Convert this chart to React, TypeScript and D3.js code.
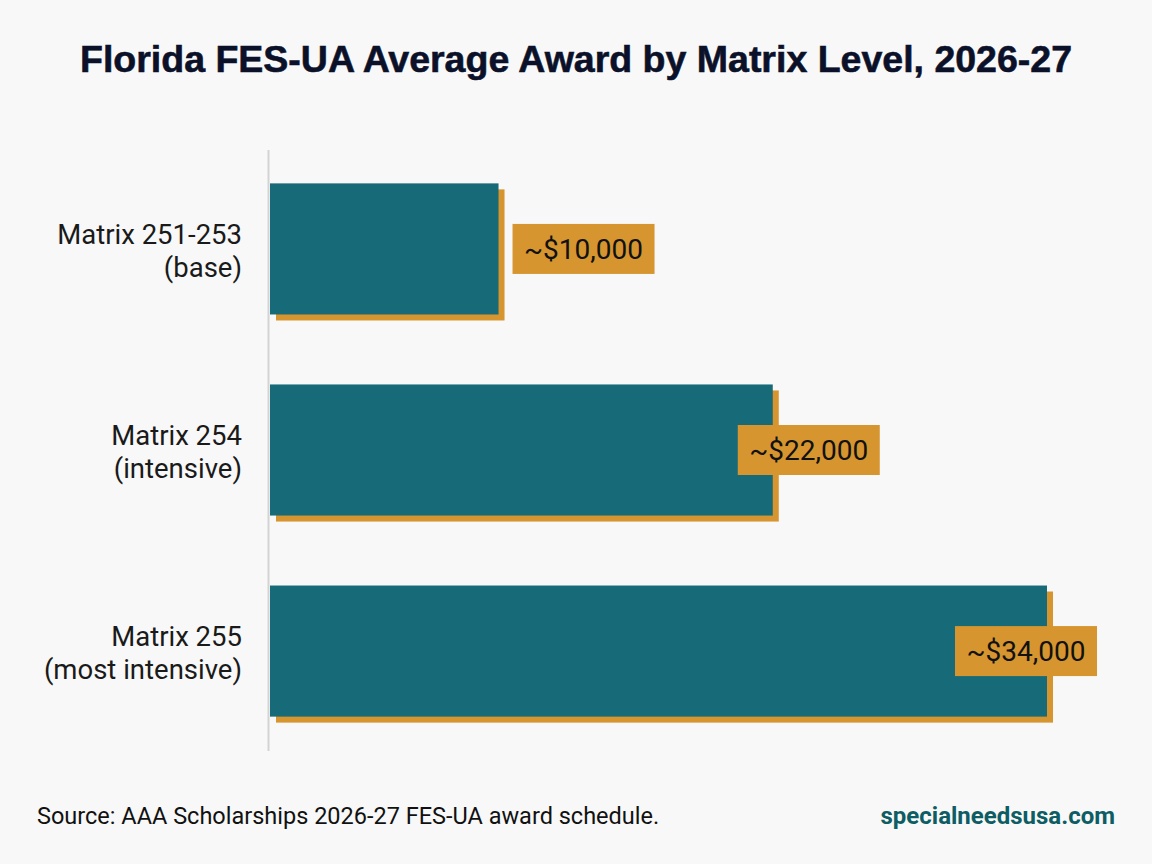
import React from "react";
import * as d3 from "d3";

const categories: string[][] = [
  ["Matrix 251-253", "(base)"],
  ["Matrix 254", "(intensive)"],
  ["Matrix 255", "(most intensive)"],
];
const awards: number[] = [10000, 22000, 34000];
const valueLabels: string[] = ["~$10,000", "~$22,000", "~$34,000"];

const W = 1152;
const H = 864;
const TEAL = "#176b78";
const GOLD = "#d6952f";

export default function App() {
  const left = 270;
  const x = d3.scaleLinear().domain([0, 34000]).range([left, 1047]);
  const ids = categories.map((_, i) => String(i));
  const y = d3
    .scaleBand<string>()
    .domain(ids)
    .range([150, 750])
    .paddingInner(0.348)
    .paddingOuter(0.166);
  const bw = y.bandwidth();
  const boxW = 142;
  const boxH = 50;
  // label box horizontal shift relative to the bar end
  const labelShift = [14, -35, -92];

  return (
    <svg
      width={W}
      height={H}
      style={{ display: "block", position: "absolute", left: 0, top: 0 }}
      fontFamily="Roboto, 'Noto Sans', sans-serif"
    >
      <rect width={W} height={H} fill="#f8f8f8" />
      <text
        x={W / 2}
        y={72}
        textAnchor="middle"
        fontFamily="'Liberation Sans', Arial, sans-serif"
        fontWeight={700}
        fontSize={37.5}
        fill="#0b1129"
        stroke="#0b1129"
        strokeWidth={0.6}
      >
        Florida FES-UA Average Award by Matrix Level, 2026-27
      </text>

      <line x1={268.5} x2={268.5} y1={150} y2={751} stroke="#d3d3d3" strokeWidth={2} />

      {awards.map((v, i) => {
        const y0 = y(String(i)) as number;
        const xe = x(v);
        const cy = y0 + bw / 2;
        const bx = xe + labelShift[i];
        return (
          <g key={i}>
            <rect x={left + 6} y={y0 + 6} width={xe - left} height={bw} fill={GOLD} />
            <rect x={left} y={y0} width={xe - left} height={bw} fill={TEAL} />
            <rect x={bx} y={cy - boxH / 2} width={boxW} height={boxH} fill={GOLD} />
            <text
              x={bx + boxW / 2}
              y={cy}
              dy="0.36em"
              textAnchor="middle"
              fontSize={28}
              fill="#111"
            >
              {valueLabels[i]}
            </text>
            <text textAnchor="end" fontSize={27.5} fill="#1a1a1a">
              <tspan x={242} y={cy - 5}>
                {categories[i][0]}
              </tspan>
              <tspan x={242} y={cy + 28}>
                {categories[i][1]}
              </tspan>
            </text>
          </g>
        );
      })}

      <text x={37} y={824} fontSize={23.5} fill="#111">
        Source: AAA Scholarships 2026-27 FES-UA award schedule.
      </text>
      <text x={1115} y={824} textAnchor="end" fontSize={24} fontWeight={700} fill="#0e5c64">
        specialneedsusa.com
      </text>
    </svg>
  );
}
